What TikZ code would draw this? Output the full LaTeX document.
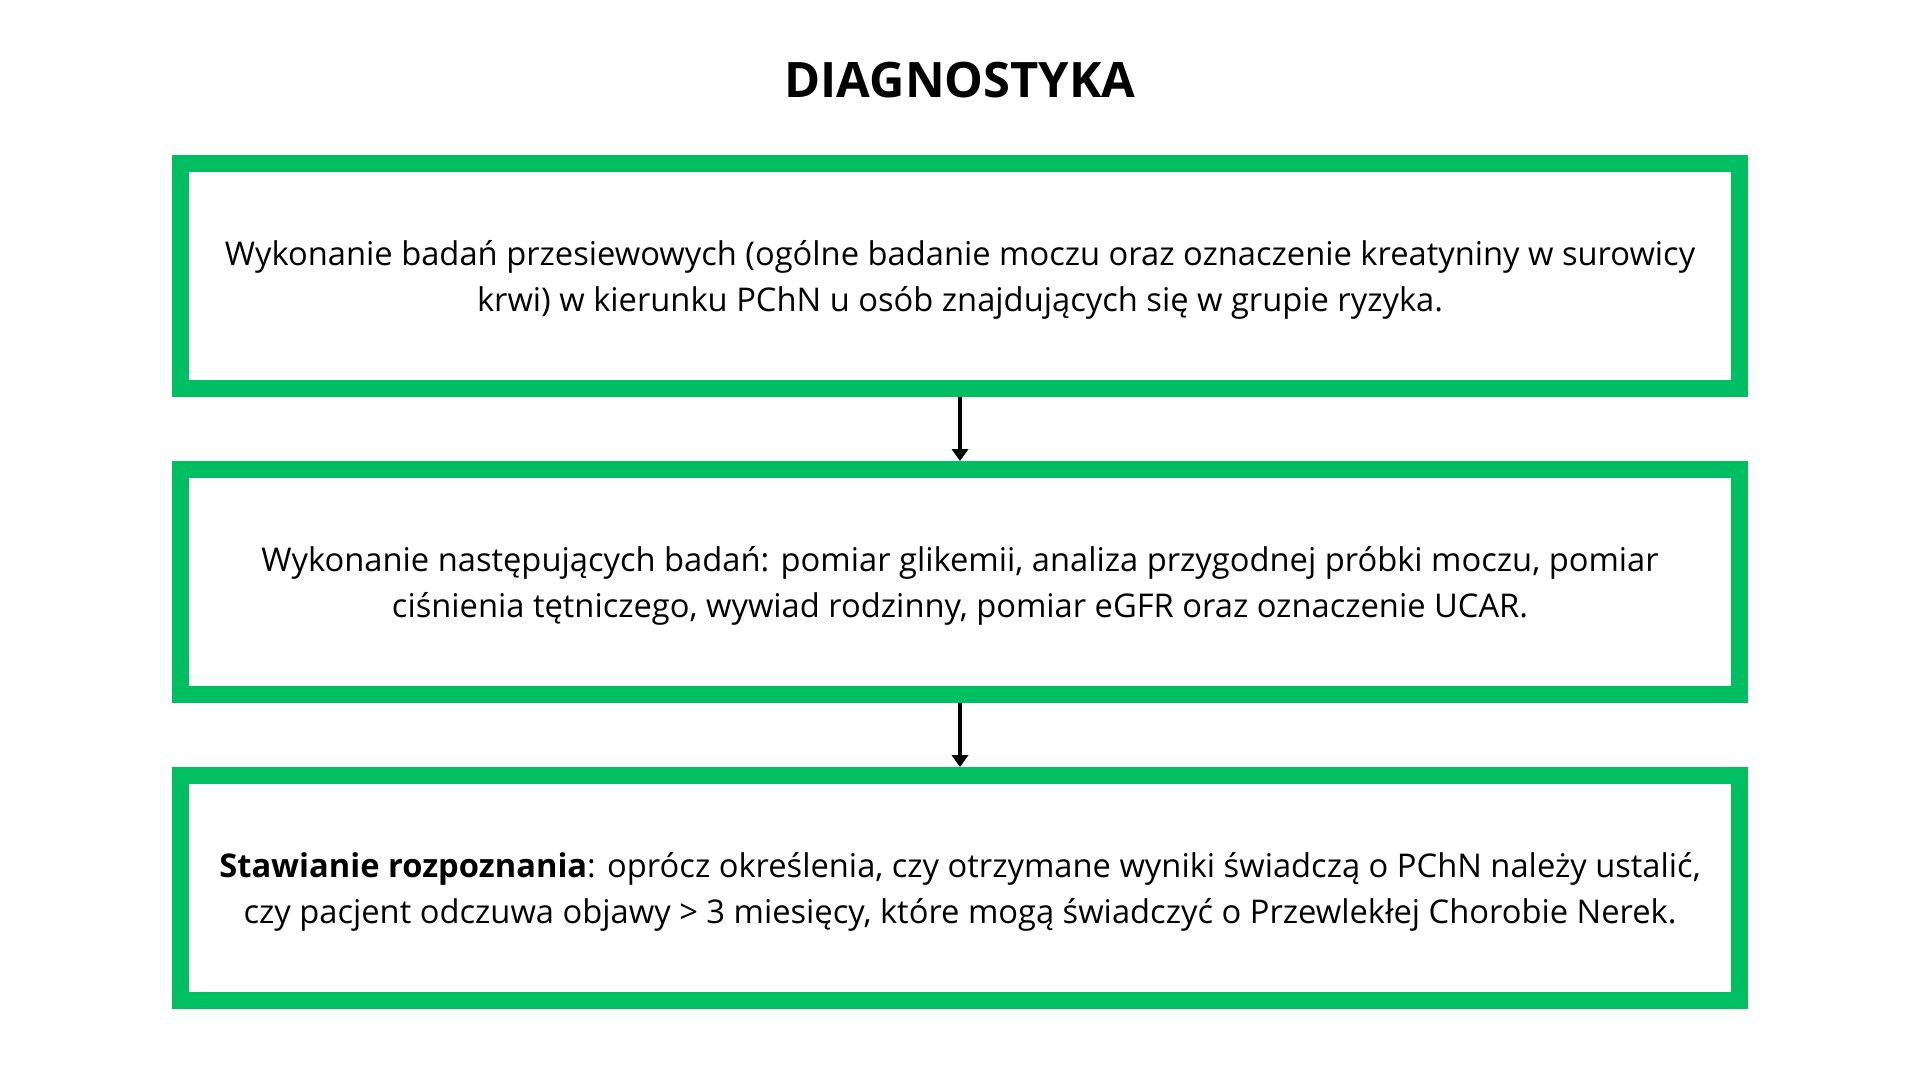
\documentclass[tikz,border=0pt]{standalone}
\usepackage{fontspec}
\setmainfont{Open Sans}
\usepackage{tikz}
\usetikzlibrary{positioning,arrows.meta}
\definecolor{diaggreen}{RGB}{0,191,99}

\begin{document}
\begin{tikzpicture}[
  box/.style={draw=diaggreen,line width=4.84pt,rectangle,fill=white,
    minimum width=15.59cm,minimum height=2.25cm,align=center,text depth=0pt,
    font=\fontsize{9.3}{12.9}\selectfont},
  arr/.style={-{Triangle[width=4.6pt,length=3.4pt]},line width=1.1pt},
  node distance=0.64cm]
\useasboundingbox (0,0) rectangle (19.2,-10.8);

% Title
\node[font=\fontsize{13.9}{16}\selectfont\bfseries] (title) at (9.6,-0.80) {DIAGNOSTYKA};

% Three steps
\node[box] (screen) at (9.6,-2.76) {Wykonanie badań przesiewowych (ogólne badanie moczu oraz oznaczenie kreatyniny w surowicy\\
krwi) w kierunku PChN u osób znajdujących się w grupie ryzyka.};

\node[box,below=of screen] (tests) {Wykonanie następujących badań: pomiar glikemii, analiza przygodnej próbki moczu, pomiar\\
ciśnienia tętniczego, wywiad rodzinny, pomiar eGFR oraz oznaczenie UCAR.};

\node[box,below=of tests] (diag) {\textbf{Stawianie rozpoznania}: oprócz określenia, czy otrzymane wyniki świadczą o PChN należy ustalić,\\
czy pacjent odczuwa objawy > 3 miesięcy, które mogą świadczyć o Przewlekłej Chorobie Nerek.};

% Connection lines
\draw[arr] (screen) -- (tests);
\draw[arr] (tests) -- (diag);
\end{tikzpicture}
\end{document}
